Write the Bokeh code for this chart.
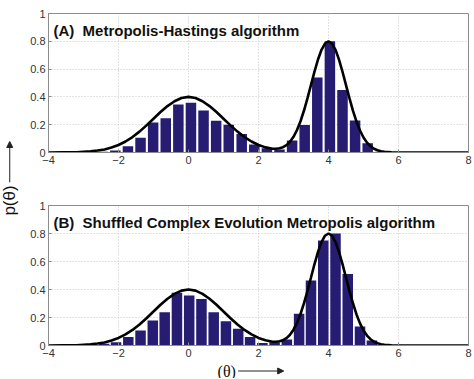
from math import pi
from bokeh.plotting import figure
from bokeh.models import Range1d, FixedTicker, Label, Arrow, NormalHead
from bokeh.layouts import row, column
from bokeh.core.properties import value
from bokeh.embed import file_html
from bokeh.resources import INLINE

# ---- data ----
bins_a = [-2.45, -2.09, -1.73, -1.37, -1.01, -0.65, -0.29, 0.07, 0.43, 0.79, 1.15, 1.52,
          1.88, 2.24, 2.60, 2.96, 3.32, 3.68, 4.04, 4.40, 4.76, 5.12, 5.48]
dens_a = [0.005, 0.014, 0.045, 0.106, 0.216, 0.247, 0.345, 0.358, 0.302, 0.228, 0.200, 0.133,
          0.057, 0.030, 0.022, 0.086, 0.198, 0.540, 0.800, 0.450, 0.230, 0.067, 0.005]

bins_b = [-2.76, -2.41, -2.07, -1.72, -1.37, -1.02, -0.68, -0.33, 0.02, 0.37, 0.72, 1.07,
          1.42, 1.76, 2.11, 2.46, 2.81, 3.16, 3.50, 3.85, 4.20, 4.55, 4.90, 5.24]
dens_b = [0.005, 0.012, 0.024, 0.060, 0.107, 0.179, 0.238, 0.376, 0.357, 0.333, 0.238, 0.174,
          0.120, 0.060, 0.018, 0.024, 0.042, 0.226, 0.464, 0.750, 0.800, 0.510, 0.136, 0.036]

curve_x = [-4.0, -3.6, -3.2, -2.8, -2.6, -2.4, -2.2, -2.0, -1.8, -1.6, -1.4, -1.2, -1.0,
           -0.8, -0.6, -0.4, -0.2, 0.0, 0.2, 0.4, 0.6, 0.8, 1.0, 1.2, 1.4, 1.6, 1.8, 2.0,
           2.2, 2.4, 2.5, 2.6, 2.7, 2.8, 2.9, 3.0, 3.1, 3.2, 3.3, 3.4, 3.5, 3.6, 3.7, 3.8,
           3.9, 4.0, 4.1, 4.2, 4.3, 4.4, 4.5, 4.6, 4.7, 4.8, 4.9, 5.0, 5.1, 5.2, 5.3, 5.4,
           5.5, 5.6, 5.8, 6.0, 8.0]
curve_y = [0.000, 0.001, 0.002, 0.008, 0.014, 0.022, 0.036, 0.054, 0.079, 0.111, 0.150, 0.195, 0.243,
           0.291, 0.334, 0.369, 0.392, 0.400, 0.392, 0.369, 0.334, 0.291, 0.243, 0.195, 0.150, 0.111, 0.079, 0.054,
           0.037, 0.027, 0.027, 0.030, 0.038, 0.053, 0.077, 0.113, 0.162, 0.225, 0.302, 0.391, 0.486, 0.582, 0.669, 0.739,
           0.784, 0.800, 0.784, 0.739, 0.668, 0.581, 0.485, 0.389, 0.300, 0.222, 0.158, 0.108, 0.071, 0.045, 0.027, 0.016,
           0.009, 0.005, 0.001, 0.000, 0.000]

x_ticks = [-4, -2, 0, 2, 4, 6, 8]
y_ticks = [0, 0.2, 0.4, 0.6, 0.8, 1]
y_tick_labels = ["0", "0.2", "0.4", "0.6", "0.8", "1"]
titles = ["(A)\u00a0 Metropolis-Hastings algorithm",
          "(B)\u00a0 Shuffled Complex Evolution Metropolis algorithm"]
y_label = "p(\u03b8)"
x_label = "(\u03b8)"

BAR = "#261d72"
FRAME = "#8c8c8c"
W = 450


def panel(bins, dens, title, h, top_b, bottom_b):
    p = figure(width=W, height=h, x_range=Range1d(-4, 8), y_range=Range1d(0, 1),
               output_backend="svg", toolbar_location=None,
               min_border_left=26, min_border_right=4,
               min_border_top=top_b, min_border_bottom=bottom_b)
    p.vbar(x=bins, top=dens, width=0.3, fill_color=BAR, line_color=None)
    p.line(curve_x, curve_y, line_color="black", line_width=2.6)
    p.xaxis.ticker = FixedTicker(ticks=x_ticks)
    p.yaxis.ticker = FixedTicker(ticks=y_ticks)
    p.yaxis.major_label_overrides = dict(zip(y_ticks, y_tick_labels))
    p.grid.grid_line_color = "#c4c4c4"
    p.grid.grid_line_dash = "1 2"
    p.grid.grid_line_width = 1
    p.outline_line_color = FRAME
    p.axis.axis_line_color = FRAME
    p.axis.major_tick_line_color = FRAME
    p.axis.major_tick_in = 3
    p.axis.major_tick_out = 0
    p.axis.minor_tick_line_color = None
    p.axis.major_label_text_font = "Liberation Sans"
    p.axis.major_label_text_font_size = "11px"
    p.axis.major_label_text_color = "#333333"
    p.yaxis.major_label_standoff = 3
    p.xaxis.major_label_standoff = 3
    p.add_layout(Label(x=-3.86, y=0.88, text=title, text_font="Liberation Sans",
                       text_font_style="bold", text_font_size="15px",
                       text_color="#111111", text_baseline="alphabetic"))
    return p


pa = panel(bins_a, dens_a, titles[0], 190, 13, 38)
pb = panel(bins_b, dens_b, titles[1], 173, 15, 18)

# bottom strip with the x label and arrow
xs = figure(width=W, height=15, x_range=Range1d(-4, 8), y_range=Range1d(0, 1),
            x_axis_type=None, y_axis_type=None, output_backend="svg", toolbar_location=None,
            min_border_left=26, min_border_right=4, min_border_top=0, min_border_bottom=0)
xs.outline_line_color = None
xs.text(x=[0.83], y=[0.5], text=[x_label], text_align="left", text_baseline="middle",
        text_font=value("Liberation Serif"), text_font_size=value("16px"), text_color="#111111")
xs.add_layout(Arrow(end=NormalHead(size=6, fill_color="#222222", line_color="#222222"),
                    x_start=1.42, y_start=0.5, x_end=2.72, y_end=0.5,
                    line_color="#222222", line_width=1))

# left strip with the y label and arrow
ys = figure(width=22, height=378, x_range=Range1d(0, 1), y_range=Range1d(0, 1),
            x_axis_type=None, y_axis_type=None, output_backend="svg", toolbar_location=None,
            min_border=0, min_border_left=0, min_border_right=0, min_border_top=0, min_border_bottom=0)
ys.outline_line_color = None
ys.text(x=[0.42], y=[0.431], text=[y_label], angle=pi / 2, text_align="left", text_baseline="middle",
        text_font=value("Liberation Sans"), text_font_size=value("17px"), text_color="#111111")
ys.add_layout(Arrow(end=NormalHead(size=6, fill_color="#222222", line_color="#222222"),
                    x_start=0.42, y_start=0.519, x_end=0.42, y_end=0.627,
                    line_color="#222222", line_width=1))

layout = row(ys, column(pa, pb, xs))

open("out.html", "w").write(file_html(layout, INLINE))
